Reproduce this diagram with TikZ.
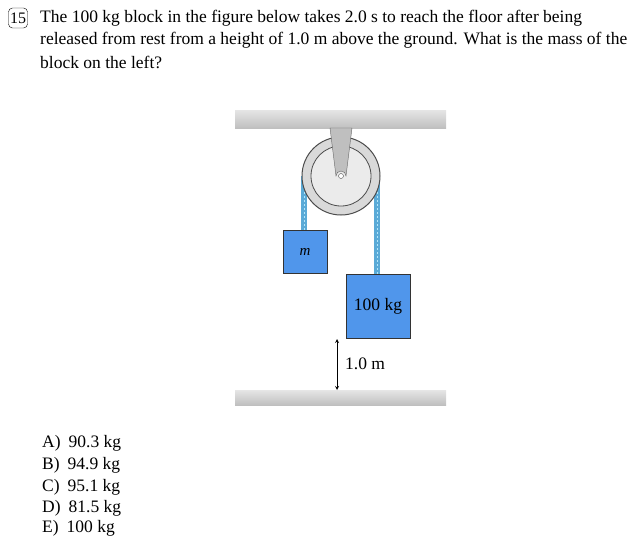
\documentclass[tikz,border=0pt]{standalone}
\usepackage{fontspec}
\setmainfont{Liberation Serif}
\definecolor{blkc}{RGB}{80,150,235}
\definecolor{ropec}{RGB}{90,170,215}
\begin{document}
\begin{tikzpicture}[x=1pt,y=-1pt,
  txt/.style={anchor=west,inner sep=0pt,font=\fontsize{17.5}{20}\selectfont},
  bar/.style={draw=none},
  blk/.style={draw=black!80,fill=blkc,line width=0.8pt},
  rope/.style={draw=ropec,line width=6pt}]
\useasboundingbox (0,0) rectangle (635,541);
\node[draw,rounded corners=4pt,inner sep=1.5pt,minimum height=20pt,font=\fontsize{16}{17}\selectfont] (q) at (18,18) {15};
\node[txt] (l1) at (40,18) {The 100 kg block in the figure below takes 2.0 s to reach the floor after being};
\node[txt] (l2) at (40,40) {released from rest from a height of 1.0 m above the ground. What is the mass of the};
\node[txt] (l3) at (40,62) {block on the left?};
% bars
\fill[bar,top color=black!10,bottom color=black!25] (235,110) rectangle (446,128);
\fill[bar,top color=black!10,bottom color=black!25] (235,390) rectangle (446,405);
% ropes
\draw[rope] (304,176) -- (304,231);
\draw[rope] (377,176) -- (377,275);
\draw[white!70!cyan,line width=0.8pt,dash pattern=on 2pt off 2pt] (304,180) -- (304,231) (377,180) -- (377,275);
% pulley
\node[circle,draw=black!70,line width=1pt,fill=black!15,minimum size=78pt] (p) at (341,176) {};
\node[circle,draw=black!70,line width=0.8pt,fill=black!8,minimum size=60pt] (pi) at (341,176) {};
\fill[black!25,draw=black!60] (330,128) -- (352,128) -- (346,176) arc (0:-180:5) -- cycle;
\node[circle,draw=black!70,fill=white,minimum size=5pt,inner sep=0pt] (hub) at (341,176) {};
% blocks
\node[blk,minimum width=44pt,minimum height=43pt,font=\itshape\fontsize{15}{16}\selectfont] (m) at (305,252) {m};
\node[blk,minimum width=64pt,minimum height=64pt,font=\fontsize{17.5}{18}\selectfont] (M) at (378,306) {100 kg};
\coordinate (a1) at (337,339);
\coordinate (a2) at (337,390);
\draw[<->,>=stealth,thick] (a1) -- (a2);
\node[txt] (h) at (345,364) {1.0 m};
\node[txt] at (42,443) {A)\hspace{8pt}90.3 kg};
\node[txt] at (42,465) {B)\hspace{8pt}94.9 kg};
\node[txt] at (42,487) {C)\hspace{8pt}95.1 kg};
\node[txt] at (42,508) {D)\hspace{8pt}81.5 kg};
\node[txt] at (42,528) {E)\hspace{8pt}100 kg};
\end{tikzpicture}
\end{document}
